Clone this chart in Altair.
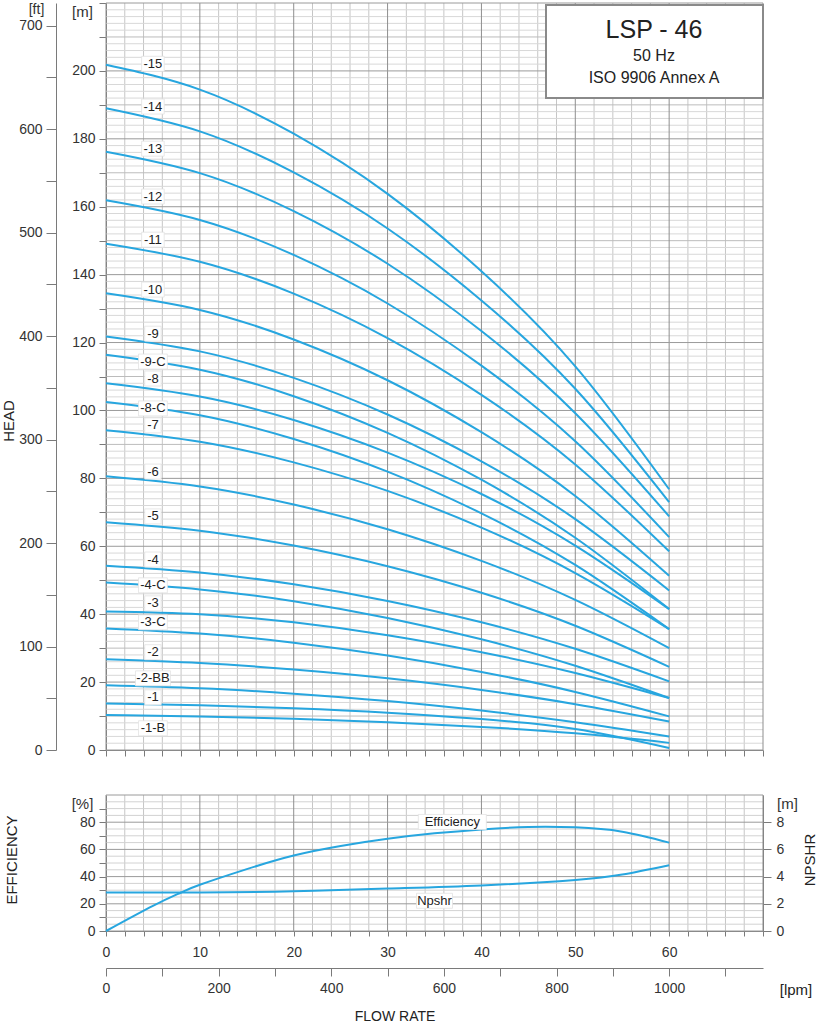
import altair as alt
import pandas as pd
import numpy as np

# ---------------- data ----------------
FLOW = [0, 10, 20, 30, 40, 50, 60]  # m3/h

CURVE_NAMES = ["-15", "-14", "-13", "-12", "-11", "-10", "-9", "-9-C", "-8", "-8-C",
               "-7", "-6", "-5", "-4", "-4-C", "-3", "-3-C", "-2", "-2-BB", "-1", "-1-B"]

HEAD_15 = [201.8, 194.5, 181.5, 163.8, 141.0, 113.0, 76.8]
HEAD_14 = [189.0, 182.2, 170.1, 153.6, 132.4, 106.4, 73.0]
HEAD_13 = [176.2, 169.9, 158.7, 143.2, 123.4, 99.2, 68.8]
HEAD_12 = [161.9, 156.1, 145.8, 131.5, 113.2, 90.9, 62.7]
HEAD_11 = [149.1, 143.8, 134.4, 121.3, 104.6, 84.1, 58.5]
HEAD_10 = [134.5, 129.6, 120.9, 108.9, 93.6, 74.8, 51.3]
HEAD_9 = [121.8, 117.4, 109.6, 98.8, 85.0, 68.0, 47.0]
HEAD_9C = [116.4, 112.0, 104.2, 93.4, 79.6, 62.5, 41.5]
HEAD_8 = [108.0, 104.1, 97.2, 87.6, 75.4, 60.2, 41.5]
HEAD_8C = [102.5, 98.6, 91.6, 82.0, 69.7, 54.5, 35.6]
HEAD_7 = [94.2, 90.8, 84.7, 76.3, 65.5, 52.1, 35.6]
HEAD_6 = [80.6, 77.6, 72.3, 65.0, 55.7, 44.2, 30.0]
HEAD_5 = [67.1, 64.6, 60.2, 54.1, 46.3, 36.6, 24.5]
HEAD_4 = [54.3, 52.3, 48.8, 43.9, 37.6, 29.8, 20.2]
HEAD_4C = [49.3, 47.3, 43.8, 38.9, 32.6, 24.8, 15.3]
HEAD_3 = [40.8, 40.0, 37.6, 33.8, 28.8, 22.7, 15.3]
HEAD_3C = [35.8, 34.3, 31.6, 27.8, 23.0, 17.1, 9.9]
HEAD_2 = [26.7, 25.6, 23.7, 21.1, 17.7, 13.5, 8.4]
HEAD_2BB = [19.1, 18.2, 16.6, 14.4, 11.6, 8.2, 4.0]
HEAD_1 = [13.7, 13.2, 12.3, 11.0, 9.1, 6.2, 0.6]
HEAD_1B = [10.3, 9.9, 9.2, 8.2, 6.8, 4.9, 2.1]

HEADS = [HEAD_15, HEAD_14, HEAD_13, HEAD_12, HEAD_11, HEAD_10, HEAD_9, HEAD_9C, HEAD_8,
         HEAD_8C, HEAD_7, HEAD_6, HEAD_5, HEAD_4, HEAD_4C, HEAD_3, HEAD_3C, HEAD_2,
         HEAD_2BB, HEAD_1, HEAD_1B]

LABEL_FLOW = 5.0
LABEL_HEAD = [202.1, 189.5, 177.1, 163.0, 150.3, 135.6, 122.6, 114.4, 109.4, 100.6,
              95.6, 82.0, 68.8, 56.1, 48.5, 43.2, 37.6, 28.8, 21.1, 15.5, 6.4]

EFF_FLOW = [0, 5, 8, 10, 15, 20, 25, 30, 35, 40, 45, 50, 55, 60]
EFF = [0, 18.5, 28.3, 34.0, 45.5, 55.5, 62.5, 67.8, 71.8, 74.7, 76.5, 76.2, 73.0, 65.0]

NPSH_FLOW = [0, 10, 20, 30, 40, 50, 55, 60]
NPSH = [2.83, 2.83, 2.92, 3.12, 3.35, 3.75, 4.15, 4.84]

EFF_LABEL = ("Efficiency", 36.9, 80.2)
NPSH_LABEL = ("Npshr", 35.0, 22.2)

TITLE_LINES = ["LSP - 46", "50 Hz", "ISO 9906 Annex A"]

# ---------------- styling ----------------
FONT = "Liberation Sans"
BLUE = "#27a6df"
AX = "#7a7a7a"
W = 657
H_TOP = 747
H_BOT = 136
XMAX = 70
HMAX = 220
CURVE_INTERP = "natural"

xscale = alt.Scale(domain=[0, XMAX], nice=False, zero=False)
yscale_top = alt.Scale(domain=[0, HMAX], nice=False, zero=False)
yscale_eff = alt.Scale(domain=[0, 100], nice=False, zero=False)

top_x_axis = alt.Axis(values=list(range(0, 71, 2)), labels=False, tickSize=6, title=None,
                      grid=False, domainColor=AX, tickColor=AX)
top_y_axis = alt.Axis(values=list(range(0, 221, 10)),
                      labelExpr="datum.value % 20 == 0 && datum.value <= 200 ? datum.label : ''",
                      tickSize=7, labelPadding=4, grid=False, domainColor=AX, tickColor=AX,
                      title="[m]", titleAngle=0, titleX=-24, titleY=8, titleAlign="center",
                      titleBaseline="middle", titleFontWeight="normal", titleFontSize=15,
                      titleFont=FONT, titleColor="#333")

bot_x_axis = alt.Axis(values=list(range(0, 71, 2)),
                      labelExpr="datum.value % 10 == 0 && datum.value <= 60 ? datum.label : ''",
                      tickSize=5, labelPadding=9, labelFlush=False, labelOverlap=False,
                      title=None, grid=False, domainColor=AX, tickColor=AX)
bot_y_axis = alt.Axis(values=list(range(0, 91, 10)),
                      labelExpr="datum.value % 20 == 0 && datum.value <= 80 ? datum.label : ''",
                      tickSize=7, labelPadding=4, grid=False, domainColor=AX, tickColor=AX,
                      title="[%]", titleAngle=0, titleX=-24, titleY=8, titleAlign="center",
                      titleBaseline="middle", titleFontWeight="normal", titleFontSize=15,
                      titleFont=FONT, titleColor="#333")


def XT(f):
    return alt.X(f, type="quantitative", scale=xscale, axis=top_x_axis)


def YT(f):
    return alt.Y(f, type="quantitative", scale=yscale_top, axis=top_y_axis)


def XB(f):
    return alt.X(f, type="quantitative", scale=xscale, axis=bot_x_axis)


def YB(f):
    return alt.Y(f, type="quantitative", scale=yscale_eff, axis=bot_y_axis)


# ---------------- tables ----------------
rows = []
for name, heads in zip(CURVE_NAMES, HEADS):
    for q, h in zip(FLOW, heads):
        rows.append({"curve": name, "q": q, "h": h})
curves_df = pd.DataFrame(rows)

lab_df = pd.DataFrame({"curve": CURVE_NAMES, "q": LABEL_FLOW, "h": LABEL_HEAD})
lab_df["wpx"] = lab_df["curve"].str.len() * 6.2 + 4
lab_df["q1"] = lab_df["q"] - lab_df["wpx"] / 2 / (W / XMAX)
lab_df["q2"] = lab_df["q"] + lab_df["wpx"] / 2 / (W / XMAX)
lab_df["h1"] = lab_df["h"] - 7.5 / (H_TOP / HMAX)
lab_df["h2"] = lab_df["h"] + 7.5 / (H_TOP / HMAX)

vq = np.arange(0, XMAX + 1, 2)
vminor = pd.DataFrame({"q": [v for v in vq if v % 10 != 0]})
vmajor = pd.DataFrame({"q": [v for v in vq if v % 10 == 0]})

hq = np.arange(0, HMAX + 1, 2)
h2 = pd.DataFrame({"h": [v for v in hq if v % 10 != 0]})
h10 = pd.DataFrame({"h": [v for v in hq if v % 10 == 0 and v % 20 != 0]})
h20 = pd.DataFrame({"h": [v for v in hq if v % 20 == 0]})

eq = np.arange(0, 101, 5)
e5 = pd.DataFrame({"e": [v for v in eq if v % 20 != 0]})
e20 = pd.DataFrame({"e": [v for v in eq if v % 20 == 0]})

eff_df = pd.DataFrame({"q": EFF_FLOW, "e": EFF})
npsh_df = pd.DataFrame({"q": NPSH_FLOW, "n": NPSH})

# ---------------- top panel ----------------
g_vmin = alt.Chart(vminor).mark_rule(color="#c6c6c6", strokeWidth=1).encode(x=XT("q"))
g_vmaj = alt.Chart(vmajor).mark_rule(color="#8e8e8e", strokeWidth=1).encode(x=XT("q"))
g_h2 = alt.Chart(h2).mark_rule(color="#d8d8d8", strokeWidth=1).encode(y=YT("h"))
g_h10 = alt.Chart(h10).mark_rule(color="#bcbcbc", strokeWidth=1).encode(y=YT("h"))
g_h20 = alt.Chart(h20).mark_rule(color="#9a9a9a", strokeWidth=1).encode(y=YT("h"))

lines = alt.Chart(curves_df).mark_line(color=BLUE, strokeWidth=2, interpolate=CURVE_INTERP).encode(
    x=XT("q"), y=YT("h"), detail="curve:N", order="q:Q")

boxes = alt.Chart(lab_df).mark_rect(fill="white", stroke="#e2e2e2", strokeWidth=0.8).encode(
    x=XT("q1"), x2="q2", y=YT("h1"), y2="h2")
labels = alt.Chart(lab_df).mark_text(font=FONT, fontSize=13, color="#222").encode(
    x=XT("q"), y=YT("h"), text="curve:N")

title_box = alt.Chart(pd.DataFrame({"a": [0]})).mark_rect(
    fill="white", stroke="#8a8a8a", strokeWidth=2).encode(
    x=alt.value(440), x2=alt.value(657), y=alt.value(2), y2=alt.value(95))
title_df = pd.DataFrame({"t": TITLE_LINES, "yy": [27, 53, 75], "fs": [25, 16, 16]})
title_txt = alt.Chart(title_df).mark_text(font=FONT, color="#222", baseline="middle").encode(
    x=alt.value(548), y=alt.Y("yy:Q", scale=None), text="t:N",
    size=alt.Size("fs:Q", scale=None, legend=None))

head_txt = alt.Chart(pd.DataFrame({"t": ["HEAD"]})).mark_text(
    font=FONT, fontSize=15, angle=270, color="#222", baseline="middle").encode(
    x=alt.value(-97), y=alt.value(418), text="t:N")

top_inner = alt.layer(g_vmin, g_h2, g_h10, g_vmaj, g_h20, lines, boxes, labels,
                      title_box, title_txt, head_txt)

ft_layer = alt.Chart(pd.DataFrame({"ft": [0, HMAX / 0.3048]})).mark_point(opacity=0).encode(
    y=alt.Y("ft:Q", scale=alt.Scale(domain=[0, HMAX / 0.3048], nice=False, zero=False),
            axis=alt.Axis(orient="left", offset=50, values=list(range(0, 701, 50)),
                          labelExpr="datum.value % 100 == 0 ? datum.label : ''",
                          tickSize=10, labelPadding=4, grid=False, domainColor=AX,
                          tickColor=AX, title="[ft]", titleAngle=0, titleX=-20, titleY=6,
                          titleAlign="center", titleBaseline="middle",
                          titleFontWeight="normal", titleFontSize=14, titleFont=FONT,
                          titleColor="#333")))

top = alt.layer(top_inner, ft_layer).resolve_scale(y="independent").properties(
    width=W, height=H_TOP)

# ---------------- bottom panel ----------------
b_vmin = alt.Chart(vminor).mark_rule(color="#c6c6c6", strokeWidth=1).encode(x=XB("q"))
b_vmaj = alt.Chart(vmajor).mark_rule(color="#8e8e8e", strokeWidth=1).encode(x=XB("q"))
b_e5 = alt.Chart(e5).mark_rule(color="#d2d2d2", strokeWidth=1).encode(y=YB("e"))
b_e20 = alt.Chart(e20).mark_rule(color="#9a9a9a", strokeWidth=1).encode(y=YB("e"))

eff_line = alt.Chart(eff_df).mark_line(color=BLUE, strokeWidth=2, interpolate=CURVE_INTERP).encode(
    x=XB("q"), y=YB("e"), order="q:Q")

blab_df = pd.DataFrame({"t": [EFF_LABEL[0], NPSH_LABEL[0]],
                        "q": [EFF_LABEL[1], NPSH_LABEL[1]],
                        "e": [EFF_LABEL[2], NPSH_LABEL[2]]})
blab_df["wpx"] = blab_df["t"].str.len() * 6.4 + 4
blab_df["q1"] = blab_df["q"] - blab_df["wpx"] / 2 / (W / XMAX)
blab_df["q2"] = blab_df["q"] + blab_df["wpx"] / 2 / (W / XMAX)
blab_df["e1"] = blab_df["e"] - 7.5 / (H_BOT / 100)
blab_df["e2"] = blab_df["e"] + 7.5 / (H_BOT / 100)

bboxes = alt.Chart(blab_df).mark_rect(fill="white", stroke="#e2e2e2", strokeWidth=0.8).encode(
    x=XB("q1"), x2="q2", y=YB("e1"), y2="e2")
blabels = alt.Chart(blab_df).mark_text(font=FONT, fontSize=13, color="#222").encode(
    x=XB("q"), y=YB("e"), text="t:N")

ann_df = pd.DataFrame({"t": ["EFFICIENCY", "NPSHR"], "xx": [-94, 704], "yy": [65, 65]})
ann_rot = alt.Chart(ann_df).mark_text(font=FONT, fontSize=15, angle=270, color="#222",
                                      baseline="middle").encode(
    x=alt.X("xx:Q", scale=None), y=alt.Y("yy:Q", scale=None), text="t:N")
ann2_df = pd.DataFrame({"t": ["[lpm]", "FLOW RATE"], "xx": [690, 289], "yy": [195, 222],
                        "fs": [15, 14]})
ann_flat = alt.Chart(ann2_df).mark_text(font=FONT, color="#222",
                                        baseline="middle").encode(
    x=alt.X("xx:Q", scale=None), y=alt.Y("yy:Q", scale=None), text="t:N",
    size=alt.Size("fs:Q", scale=None, legend=None))

eff_inner = alt.layer(b_vmin, b_e5, b_vmaj, b_e20, eff_line, bboxes, blabels, ann_rot, ann_flat)

npsh_layer = alt.Chart(npsh_df).mark_line(color=BLUE, strokeWidth=2, interpolate=CURVE_INTERP).encode(
    x=alt.X("q:Q", scale=xscale, axis=None),
    y=alt.Y("n:Q", scale=alt.Scale(domain=[0, 10], nice=False, zero=False),
            axis=alt.Axis(orient="right", values=[0, 2, 4, 6, 8], tickSize=8, labelPadding=5,
                          grid=False, domainColor=AX, tickColor=AX, title="[m]", titleAngle=0,
                          titleX=24, titleY=8, titleAlign="center", titleBaseline="middle",
                          titleFontWeight="normal", titleFontSize=15, titleFont=FONT,
                          titleColor="#333")),
    order="q:Q")

LPM_MAX = XMAX * 1000 / 60
lpm_layer = alt.Chart(pd.DataFrame({"lpm": [0, LPM_MAX]})).mark_point(opacity=0).encode(
    x=alt.X("lpm:Q", scale=alt.Scale(domain=[0, LPM_MAX], nice=False, zero=False),
            axis=alt.Axis(orient="bottom", offset=37, values=list(range(0, 1101, 100)),
                          labelExpr="datum.value % 200 == 0 ? format(datum.value, 'd') : ''",
                          tickSize=8, labelPadding=5, labelFlush=False, labelOverlap=False,
                          grid=False, domainColor=AX, tickColor=AX, title=None)))

bottom = alt.layer(eff_inner, npsh_layer, lpm_layer).resolve_scale(
    x="independent", y="independent").properties(width=W, height=H_BOT)

chart = alt.vconcat(top, bottom, spacing=37).properties(
    padding={"left": 2, "top": 0, "right": 0, "bottom": 0}
).configure_view(stroke=None).configure_axis(
    labelFont=FONT, labelFontSize=14, labelColor="#333")

chart.save("out.html", embed_options={"renderer": "svg", "actions": False})
